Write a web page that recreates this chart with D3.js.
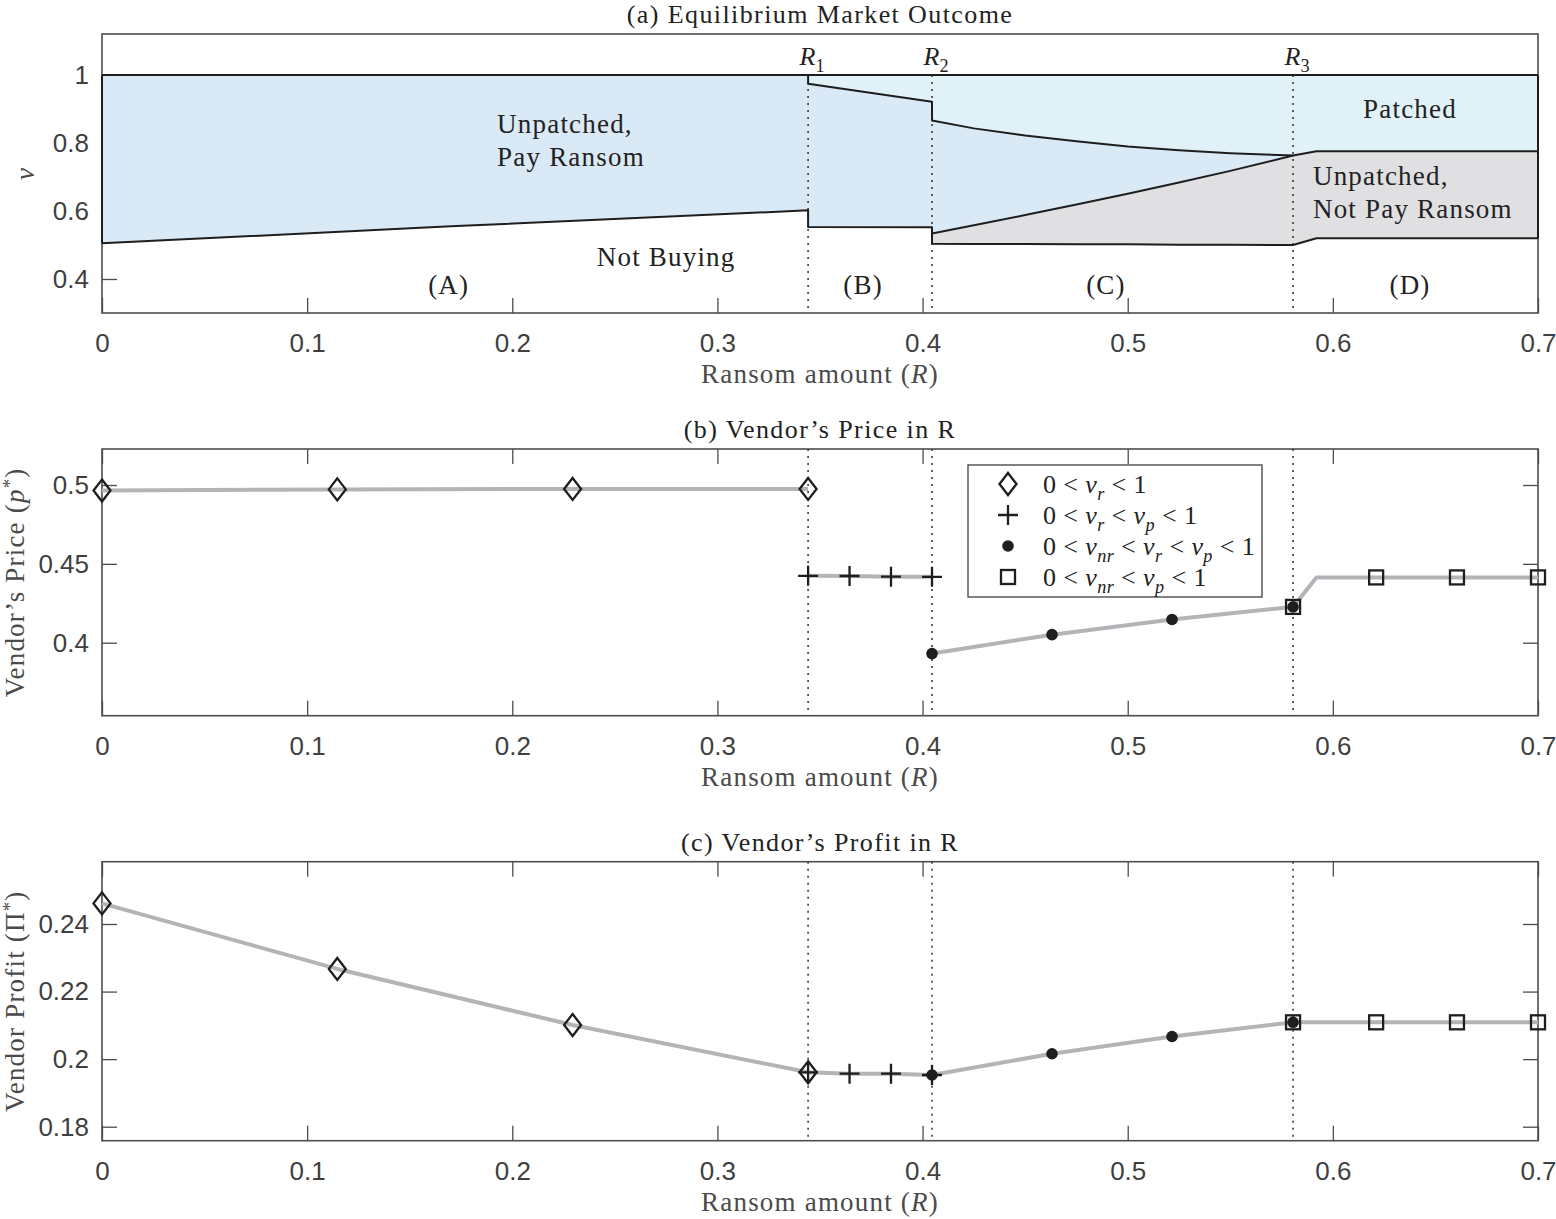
<!DOCTYPE html>
<html>
<head>
<meta charset="utf-8">
<script src="https://cdn.jsdelivr.net/npm/d3@7"></script>
<style>
  body { margin: 0; background: #fff; }
  svg { display: block; }
  .tick text { font-family: "Liberation Sans", Arial, sans-serif; font-size: 26px; fill: #3f3f3f; }
  .tick line { stroke: #4d4d4d; stroke-width: 1.3; }
  .serif { font-family: "Liberation Serif", "Times New Roman", serif; white-space: pre; }
</style>
</head>
<body>
<svg id="chart" width="1556" height="1219"></svg>
<script>
// ---------- data ----------
const xTickValues = [0, 0.1, 0.2, 0.3, 0.4, 0.5, 0.6, 0.7];
const xTickLabels = ['0', '0.1', '0.2', '0.3', '0.4', '0.5', '0.6', '0.7'];
const vTickValues = [0.4, 0.6, 0.8, 1];
const vTickLabels = ['0.4', '0.6', '0.8', '1'];
const priceTickValues = [0.4, 0.45, 0.5];
const priceTickLabels = ['0.4', '0.45', '0.5'];
const profitTickValues = [0.18, 0.2, 0.22, 0.24];
const profitTickLabels = ['0.18', '0.2', '0.22', '0.24'];

// thresholds R1, R2, R3
const thresholds = [0.3442, 0.4046, 0.5806];
const thresholdLabels = ['$R_{1}$', '$R_{2}$', '$R_{3}$'];

// panel (a) boundaries
const vTop = 1;
const R_A = [0, 0.17, 0.3442];
const vLow_A = [0.505, 0.555, 0.602];
const R_B = [0.3442, 0.4046];
const vLow_B = [0.553, 0.552];
const vHigh_B = [0.974, 0.921];
const R_C = [0.4046, 0.425, 0.45, 0.475, 0.5, 0.525, 0.55, 0.5806];
const vHigh_C = [0.866, 0.843, 0.822, 0.805, 0.790, 0.779, 0.770, 0.763];
const vR_C = [0.534, 0.558, 0.588, 0.619, 0.651, 0.684, 0.718, 0.763];
const vNR_C = [0.504, 0.503, 0.503, 0.502, 0.502, 0.501, 0.501, 0.500];
const R_D = [0.5806, 0.592, 0.7];
const vP_D = [0.763, 0.776, 0.776];
const vNR_D = [0.500, 0.520, 0.520];

// panel (b) vendor's price
const diamondR = [0, 0.1147, 0.2294, 0.3442];
const diamondPrice = [0.4965, 0.4972, 0.4975, 0.4975];
const plusR = [0.3442, 0.3644, 0.3846, 0.4046];
const plusPrice = [0.4424, 0.4423, 0.4419, 0.4418];
const dotR = [0.4046, 0.4631, 0.5216, 0.5806];
const dotPrice = [0.3931, 0.4051, 0.4147, 0.4227];
const squareR = [0.5806, 0.6211, 0.6605, 0.7];
const squarePrice = [0.4227, 0.4414, 0.4414, 0.4414];
const priceKinkR = 0.592;
const priceKink = 0.4414;

// panel (c) vendor's profit
const diamondProfit = [0.2461, 0.2267, 0.2101, 0.1961];
const plusProfit = [0.1961, 0.1957, 0.1957, 0.1953];
const dotProfit = [0.1953, 0.2016, 0.2067, 0.2109];
const squareProfit = [0.2109, 0.2109, 0.2109, 0.2109];

const legendLabels = [
  '$0 < v_{r} < 1$',
  '$0 < v_{r} < v_{p} < 1$',
  '$0 < v_{nr} < v_{r} < v_{p} < 1$',
  '$0 < v_{nr} < v_{p} < 1$'
];

// ---------- layout ----------
const svg = d3.select('#chart');
const X0 = 102, X1 = 1538;
const x = d3.scaleLinear().domain([0, 0.7]).range([X0, X1]);
const TICK = 15;
const AXIS_COLOR = '#4d4d4d';
const INK = '#1e1e1e';
const GREY_LINE = '#b4b4b8';

const zip = (a, b) => a.map((d, i) => [d, b[i]]);

// text with $...$ math segments: letters in math are italic, _{} sub, ^{} sup
function tex(sel, str, size) {
  let shift = 0, math = false, i = 0;
  const push = (t, italic, level) => {
    const ts = sel.append('tspan').text(t);
    if (italic) ts.style('font-style', 'italic');
    const target = level === 'sub' ? size * 0.25 : level === 'sup' ? -size * 0.3 : 0;
    if (target !== shift) { ts.attr('dy', target - shift); shift = target; }
    if (level) ts.style('font-size', (size * 0.7) + 'px');
  };
  while (i < str.length) {
    const c = str[i];
    if (c === '$') { math = !math; i++; continue; }
    if (math && (c === '_' || c === '^')) {
      const end = str.indexOf('}', i);
      const inner = str.slice(i + 2, end);
      push(inner, /[a-z]/i.test(inner), c === '_' ? 'sub' : 'sup');
      i = end + 1;
    } else if (math && /[a-zA-Z]/.test(c)) {
      push(c, true, null); i++;
    } else {
      let j = i;
      while (j < str.length && str[j] !== '$' && !(math && /[a-zA-Z_^]/.test(str[j]))) j++;
      push(str.slice(i, j), false, null);
      i = j;
    }
  }
}

function label(g, str, px, py, opts = {}) {
  const size = opts.size || 27;
  const t = g.append('text')
    .attr('class', 'serif')
    .attr('x', px).attr('y', py)
    .attr('text-anchor', opts.anchor || 'middle')
    .style('font-size', size + 'px')
    .style('letter-spacing', (opts.spacing == null ? 1.2 : opts.spacing) + 'px')
    .attr('fill', opts.fill || '#222');
  if (opts.rotate) t.attr('x', 0).attr('y', 0).attr('transform', `translate(${px},${py}) rotate(-90)`);
  tex(t, str, size);
  return t;
}

function axes(g, y, top, bottom, yTicks, yLabels, full) {
  g.append('g')
    .attr('transform', `translate(0,${bottom})`)
    .call(d3.axisBottom(x).tickValues(xTickValues).tickSize(-TICK).tickPadding(21)
      .tickFormat((d, i) => xTickLabels[i]))
    .call(s => s.select('.domain').remove());
  g.append('g')
    .attr('transform', `translate(${X0},0)`)
    .call(d3.axisLeft(y).tickValues(yTicks).tickSize(-TICK).tickPadding(13)
      .tickFormat((d, i) => yLabels[i]))
    .call(s => s.select('.domain').remove());
  if (full) {
    g.append('g').attr('transform', `translate(0,${top})`)
      .call(d3.axisTop(x).tickValues(xTickValues).tickSize(-TICK).tickFormat(''))
      .call(s => s.select('.domain').remove());
    g.append('g').attr('transform', `translate(${X1},0)`)
      .call(d3.axisRight(y).tickValues(yTicks).tickSize(-TICK).tickFormat(''))
      .call(s => s.select('.domain').remove());
  }
}

function frame(g, top, bottom) {
  g.append('rect')
    .attr('x', X0).attr('y', top)
    .attr('width', X1 - X0).attr('height', bottom - top)
    .attr('fill', 'none').attr('stroke', AXIS_COLOR).attr('stroke-width', 1.6);
}

function dotted(g, y0, y1) {
  g.selectAll(null).data(thresholds).enter().append('line')
    .attr('x1', d => x(d)).attr('x2', d => x(d))
    .attr('y1', y0).attr('y2', y1)
    .attr('stroke', '#3a3a3a').attr('stroke-width', 1.6)
    .attr('stroke-dasharray', '2,5');
}

function titles(top, bottom, title, yLabel, yLabelX) {
  label(svg, title, (X0 + X1) / 2, top - 11, { size: 26, spacing: 1.4 });
  label(svg, 'Ransom amount ($R$)', (X0 + X1) / 2, bottom + 70, { fill: '#4a4a4a' });
  label(svg, yLabel, yLabelX, (top + bottom) / 2, { rotate: true, fill: '#4a4a4a' });
}

// ---------- markers ----------
function marker(g, type, px, py) {
  if (type === 'diamond') {
    g.append('path').attr('d', `M${px},${py - 11}L${px + 8.5},${py}L${px},${py + 11}L${px - 8.5},${py}Z`)
      .attr('fill', 'none').attr('stroke', INK).attr('stroke-width', 2.3);
  } else if (type === 'plus') {
    g.append('path').attr('d', `M${px - 10},${py}H${px + 10}M${px},${py - 10}V${py + 10}`)
      .attr('fill', 'none').attr('stroke', INK).attr('stroke-width', 2.3);
  } else if (type === 'dot') {
    g.append('circle').attr('cx', px).attr('cy', py).attr('r', 5.8).attr('fill', INK);
  } else {
    g.append('rect').attr('x', px - 7).attr('y', py - 7).attr('width', 14).attr('height', 14)
      .attr('fill', 'none').attr('stroke', INK).attr('stroke-width', 2.3);
  }
}

function markerSeries(g, y, type, rs, vs) {
  zip(rs, vs).forEach(([r, v]) => marker(g, type, x(r), y(v)));
}

// =========== panel (a) ===========
{
  const top = 34, bottom = 313;
  const y = d3.scaleLinear().domain([0.3, 1.1206]).range([bottom, top]);
  const g = svg.append('g');
  const line = d3.line().x(d => x(d[0])).y(d => y(d[1]));

  axes(g, y, top, bottom, vTickValues, vTickLabels, false);

  const blueUpper = [[0, vTop], [R_B[0], vTop]].concat(zip(R_B, vHigh_B), zip(R_C, vHigh_C));
  const blueLower = zip(R_A, vLow_A).concat(zip(R_B, vLow_B), zip(R_C, vR_C));
  const patchedLower = zip(R_B, vHigh_B).concat(zip(R_C, vHigh_C), zip(R_D, vP_D));
  const greyUpper = zip(R_C, vR_C).concat(zip(R_D, vP_D));
  const greyLower = zip(R_C, vNR_C).concat(zip(R_D, vNR_D));

  g.append('path').attr('d', line(blueUpper.concat(blueLower.slice().reverse())) + 'Z')
    .attr('fill', '#dae9f6');
  g.append('path').attr('d', line(patchedLower.concat([[0.7, vTop], [R_B[0], vTop]])) + 'Z')
    .attr('fill', '#e0f2f8');
  g.append('path').attr('d', line(greyUpper.concat(greyLower.slice().reverse())) + 'Z')
    .attr('fill', '#e0e0e2');

  frame(g, top, bottom);
  dotted(g, y(vTop), bottom);

  const lines = [
    [[0, vTop], [0.7, vTop]],
    [[0, vLow_A[0]], [0, vTop]],
    [[0.7, vNR_D[vNR_D.length - 1]], [0.7, vTop]],
    zip(R_A, vLow_A).concat(zip(R_B, vLow_B), zip(R_C, vNR_C), zip(R_D, vNR_D)),
    [[R_B[0], vTop]].concat(patchedLower),
    zip(R_C, vR_C)
  ];
  g.selectAll(null).data(lines).enter().append('path')
    .attr('d', line).attr('fill', 'none')
    .attr('stroke', INK).attr('stroke-width', 2).attr('stroke-linejoin', 'round');

  thresholds.forEach((r, i) => label(g, thresholdLabels[i], x(r) + 4, 65, { size: 26, spacing: 0 }));

  // region annotations (data coordinates)
  label(g, 'Unpatched,', x(0.1926), y(0.829), { anchor: 'start' });
  label(g, 'Pay Ransom', x(0.1926), y(0.732), { anchor: 'start' });
  label(g, 'Not Buying', x(0.275), y(0.438));
  label(g, 'Patched', x(0.6376), y(0.8735));
  label(g, 'Unpatched,', x(0.5903), y(0.6765), { anchor: 'start' });
  label(g, 'Not Pay Ransom', x(0.5903), y(0.579), { anchor: 'start' });
  [['(A)', 0.169], ['(B)', 0.371], ['(C)', 0.4894], ['(D)', 0.6376]]
    .forEach(([t, r]) => label(g, t, x(r), y(0.357)));

  titles(top, bottom, '(a) Equilibrium Market Outcome', '$v$', 34);
}

// =========== panel (b) ===========
{
  const top = 449, bottom = 715.7;
  const y = d3.scaleLinear().domain([0.35371, 0.52283]).range([bottom, top]);
  const g = svg.append('g');
  const line = d3.line().x(d => x(d[0])).y(d => y(d[1]));

  axes(g, y, top, bottom, priceTickValues, priceTickLabels, true);
  frame(g, top, bottom);
  dotted(g, top, bottom);

  const segments = [
    zip(diamondR, diamondPrice),
    zip(plusR, plusPrice),
    zip(dotR, dotPrice).concat([[priceKinkR, priceKink]], zip(squareR.slice(1), squarePrice.slice(1)))
  ];
  g.selectAll(null).data(segments).enter().append('path')
    .attr('d', line).attr('fill', 'none')
    .attr('stroke', GREY_LINE).attr('stroke-width', 4).attr('stroke-linejoin', 'round');

  markerSeries(g, y, 'diamond', diamondR, diamondPrice);
  markerSeries(g, y, 'plus', plusR, plusPrice);
  markerSeries(g, y, 'dot', dotR, dotPrice);
  markerSeries(g, y, 'square', squareR, squarePrice);

  // legend
  const lg = g.append('g');
  lg.append('rect').attr('x', 968).attr('y', 465).attr('width', 294).attr('height', 132)
    .attr('fill', '#fff').attr('stroke', AXIS_COLOR).attr('stroke-width', 1.4);
  ['diamond', 'plus', 'dot', 'square'].forEach((type, i) => {
    const cy = 484 + i * 31;
    marker(lg, type, 1008, cy);
    label(lg, legendLabels[i], 1043, cy + 9, { anchor: 'start', size: 26, spacing: 0.4 });
  });

  titles(top, bottom, '(b) Vendor’s Price in R', 'Vendor’s Price ($p^{*}$)', 24);
}

// =========== panel (c) ===========
{
  const top = 861.7, bottom = 1140.7;
  const y = d3.scaleLinear().domain([0.17586, 0.25844]).range([bottom, top]);
  const g = svg.append('g');
  const line = d3.line().x(d => x(d[0])).y(d => y(d[1]));

  axes(g, y, top, bottom, profitTickValues, profitTickLabels, true);
  frame(g, top, bottom);
  dotted(g, top, bottom);

  const path = zip(diamondR, diamondProfit).concat(
    zip(plusR, plusProfit), zip(dotR, dotProfit), zip(squareR, squareProfit));
  g.append('path').attr('d', line(path)).attr('fill', 'none')
    .attr('stroke', GREY_LINE).attr('stroke-width', 4).attr('stroke-linejoin', 'round');

  markerSeries(g, y, 'diamond', diamondR, diamondProfit);
  markerSeries(g, y, 'plus', plusR, plusProfit);
  markerSeries(g, y, 'dot', dotR, dotProfit);
  markerSeries(g, y, 'square', squareR, squareProfit);

  titles(top, bottom, '(c) Vendor’s Profit in R', 'Vendor Profit ($Π^{*}$)', 24);
}
</script>
</body>
</html>
